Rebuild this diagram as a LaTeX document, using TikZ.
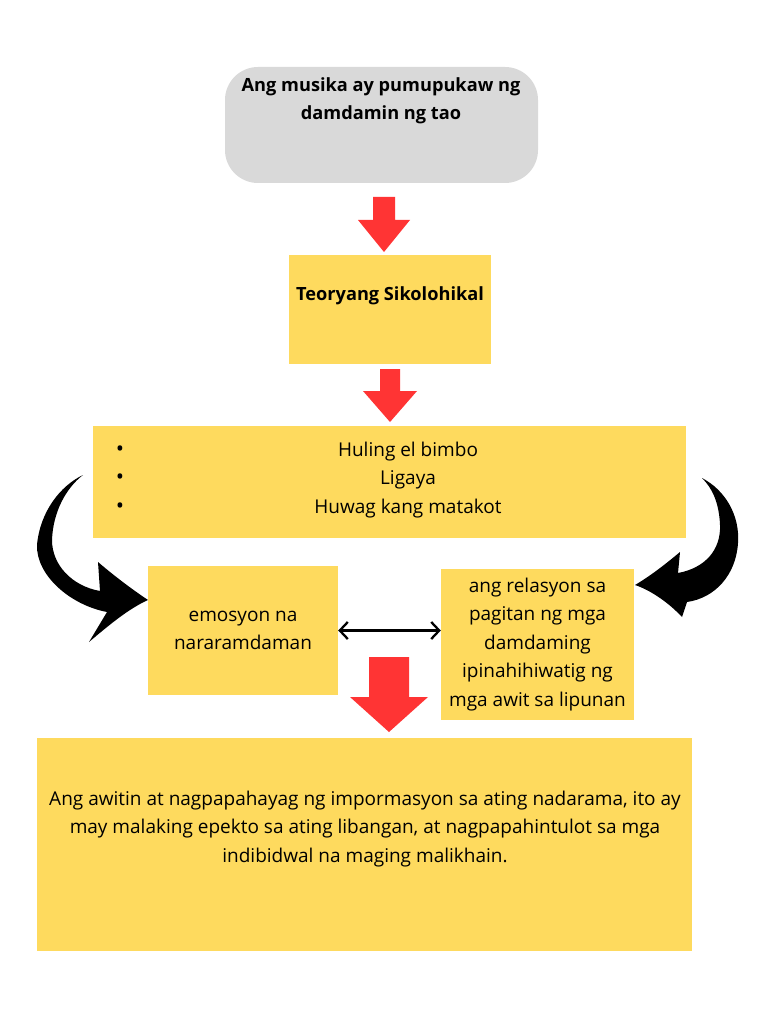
\documentclass[tikz,border=0pt]{standalone}
\usepackage{fontspec}
\setmainfont{Open Sans}
\usetikzlibrary{arrows.meta}
\definecolor{boxyellow}{HTML}{FEDA5E}
\definecolor{arrowred}{HTML}{FF3434}
\definecolor{boxgray}{HTML}{D9D9D9}
% red block arrow: centre x, top y, head y, tip y, half shaft, half head
\newcommand{\redblock}[6]{%
  \fill[arrowred] (#1-#5,#2) -- (#1+#5,#2) -- (#1+#5,#3) -- (#1+#6,#3)
    -- (#1,#4) -- (#1-#6,#3) -- (#1-#5,#3) -- cycle;}

\begin{document}
\begin{tikzpicture}[x=1pt,y=-1pt,
  every node/.style={font=\fontsize{19}{28.5}\selectfont, inner sep=0pt},
  ybox/.style={fill=boxyellow, align=center},
  bold/.style={font=\fontsize{18.2}{28.5}\selectfont\bfseries, align=center},
  dbl/.style={{Straight Barb[length=8pt,width=17pt]}-{Straight Barb[length=8pt,width=17pt]}, line width=2.3pt}]
\fill[white] (0,0) rectangle (768,1024);
\useasboundingbox (0,0) rectangle (768,1024);

\node[fill=boxgray,rounded corners=33pt,minimum width=313pt,minimum height=116pt] (musika) at (381.5,125) {};
\node[bold] (musikatxt) at (381,101) {Ang musika ay pumupukaw ng\\damdamin ng tao};
\redblock{384}{197}{220}{252}{11}{26}

\node[ybox,minimum width=202pt,minimum height=109pt] (teorya) at (390,309.5) {};
\node[bold] (teoryatxt) at (390,296) {Teoryang Sikolohikal};
\redblock{390}{369}{391}{422}{10}{27}

\node[ybox,minimum width=593pt,minimum height=112pt] (awit) at (389.5,482) {};
\node[align=center] (awittxt) at (408,480) {Huling el bimbo\\Ligaya\\Huwag kang matakot};
\foreach \y [count=\i] in {456,484.5,513}
  \node[anchor=base,font=\fontsize{22}{28.5}\selectfont] (dot\i) at (120,\y) {\textbullet};

\node[ybox,minimum width=190pt,minimum height=129pt] (emosyon) at (243,630.5) {emosyon na\\nararamdaman};
\node[ybox,minimum width=193pt,minimum height=151pt] (relasyon) at (537.5,644.5)
  {ang relasyon sa\\pagitan ng mga\\damdaming\\ipinahihiwatig ng\\mga awit sa lipunan};
\draw[dbl] (emosyon.east) -- (emosyon.east -| relasyon.west);
\redblock{389}{657}{697}{732}{20}{39}

\node[ybox,minimum width=655pt,minimum height=213pt] (buod) at (364.5,844.5) {};
\node[align=center] (buodtxt) at (365,829) {Ang awitin at nagpapahayag ng impormasyon sa ating nadarama, ito ay\\may malaking epekto sa ating libangan, at nagpapahintulot sa mga\\indibidwal na maging malikhain.};

% curved black arrows
\fill[black] (83,475) .. controls (60,486) and (40,512) .. (37,545)
  .. controls (36,575) and (70,605) .. (107,612) -- (89,642)
  .. controls (108,626) and (128,609) .. (148,600)
  .. controls (130,588) and (112,574) .. (98,562) -- (100,591)
  .. controls (72,586) and (52,565) .. (52,540)
  .. controls (53,512) and (66,488) .. (83,475) -- cycle;
\fill[black] (702,478) .. controls (725,490) and (740,515) .. (738,543)
  .. controls (736,575) and (715,598) .. (687,602) -- (682,617)
  .. controls (668,602) and (650,590) .. (635,585)
  .. controls (652,575) and (668,562) .. (680,552) -- (678,573)
  .. controls (705,568) and (721,550) .. (720,525)
  .. controls (719,502) and (712,488) .. (702,478) -- cycle;
\end{tikzpicture}
\end{document}
